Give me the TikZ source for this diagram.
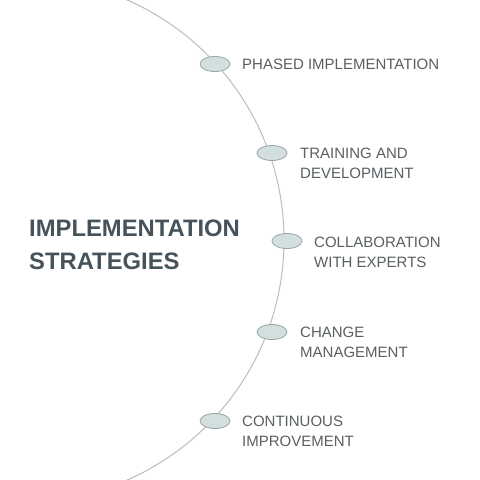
\documentclass[tikz,border=0pt]{standalone}
\usepackage{fontspec}
\setmainfont{Liberation Sans}
\usetikzlibrary{shapes.geometric}
\definecolor{arcgray}{HTML}{BDBDBD}
\definecolor{dotfill}{HTML}{D3DEDF}
\definecolor{dotline}{HTML}{98A6A8}
\definecolor{labelgray}{HTML}{595F62}
\definecolor{titlegray}{HTML}{46535A}
\tikzset{
  dot/.style={ellipse, draw=dotline, fill=dotfill, line width=0.8pt,
    minimum width=30pt, minimum height=15pt, inner sep=0pt},
  label/.style={anchor=base west, inner sep=0pt, align=left, text=labelgray,
    font=\fontsize{15}{20}\selectfont},
  title/.style={anchor=base west, inner sep=0pt, align=left, text=titlegray,
    font=\fontsize{23.8}{33}\selectfont\bfseries}
}
\begin{document}
\begin{tikzpicture}[x=1pt,y=-1pt]
  \useasboundingbox (0,0) rectangle (480,480);
  \fill[white] (0,0) rectangle (480,480);
  \begin{scope}
    \clip (0,0) rectangle (480,480);
    \draw[arcgray, line width=1pt] (22,240) circle[radius=262pt];
  \end{scope}
  % base west of a two-line node is the second line
  \node[title] (strategies) at (29,269.5) {IMPLEMENTATION\\STRATEGIES};
  \draw
    (215,64) node[dot] (d1){}
    (272,153) node[dot] (d2){}
    (287,241) node[dot] (d3){}
    (272,332) node[dot] (d4){}
    (215,421) node[dot] (d5){};
  \node[label] (phased) at (242,69.4) {PHASED IMPLEMENTATION};
  \node[label] (training) at (300,178.4) {TRAINING AND\\DEVELOPMENT};
  \node[label] (collab) at (314,267.4) {COLLABORATION\\WITH EXPERTS};
  \node[label] (change) at (300,357.4) {CHANGE\\MANAGEMENT};
  \node[label] (continuous) at (242,446.4) {CONTINUOUS\\IMPROVEMENT};
\end{tikzpicture}
\end{document}
